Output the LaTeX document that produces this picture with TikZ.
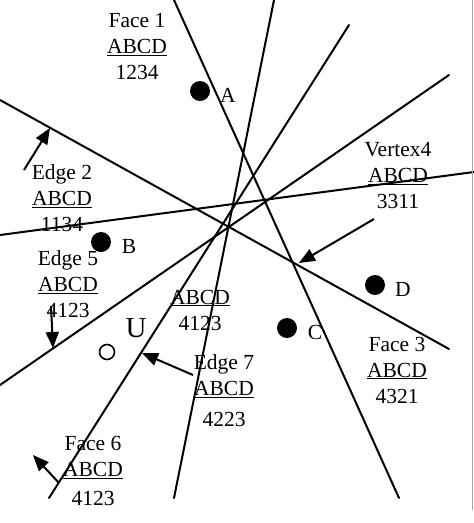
\documentclass[tikz,border=0pt]{standalone}
\usepackage{fontspec}
\setmainfont{Liberation Serif}
\usetikzlibrary{arrows.meta}
\tikzset{
  cut/.style={line width=2pt,line cap=round},
  ptr/.style={-{Triangle[length=16pt,width=13pt]},line width=2pt},
  site/.style={circle,fill,inner sep=0pt,minimum size=20pt},
  query/.style={circle,draw,line width=1.6pt,inner sep=0pt,minimum size=15pt},
  tag/.style={font=\fontsize{21.5}{26}\selectfont,inner sep=0pt},
  cell/.style={tag,align=center}
}
\begin{document}
\begin{tikzpicture}[x=1pt,y=-1pt]
  \useasboundingbox (0,0) rectangle (474,523);
  % the six lines of the arrangement
  \coordinate (p1) at (174,0);   \coordinate (q1) at (399,498);
  \coordinate (p2) at (274,0);   \coordinate (q2) at (174,498);
  \coordinate (p3) at (349,25);  \coordinate (q3) at (49,498);
  \coordinate (p4) at (449,75);  \coordinate (q4) at (0,385);
  \coordinate (p5) at (0,235);   \coordinate (q5) at (474,172);
  \coordinate (p6) at (0,100);   \coordinate (q6) at (449,349);
  \foreach \i in {1,...,6} {\draw[cut] (p\i) -- (q\i);}
  \draw[gray!70,line width=1.5pt] (472.5,0) -- (472.5,510);

  % sites and query point
  \foreach \n/\x/\y in {A/200/91,B/101/242,D/375/285,C/287/328}{
    \node[site] (\n) at (\x,\y) {};
    \node[tag] (\n lab) at ([xshift=28pt,yshift=-4pt]\n.center) {\n};}
  \node[query] (u) at (107,352) {};
  \node[font=\fontsize{29}{30}\selectfont,inner sep=0pt] (ulab) at (136,328) {U};

  % labels of faces, edges and vertex
  \node[cell] (face1) at (137,47) {Face 1\\\underline{ABCD}\\1234};
  \node[cell] (edge2) at (62,198) {Edge 2\\\underline{ABCD}\\1134};
  \node[cell] (vert4) at (398,176) {Vertex4\\\underline{ABCD}\\3311};
  \node[cell] (edge5) at (68,284) {Edge 5\\\underline{ABCD}\\4123};
  \node[cell] (cellU) at (200,310) {\underline{ABCD}\\4123};
  \node[cell] (edge7) at (224,391) {Edge 7\\\underline{ABCD}\\[5pt]4223};
  \node[cell] (face3) at (397,370) {Face 3\\\underline{ABCD}\\4321};
  \node[cell] (face6) at (93,471) {Face 6\\\underline{ABCD}\\[3pt]4123};

  % pointers
  \coordinate (e2t) at (24,170);  \coordinate (e2h) at (50,128);
  \coordinate (v4t) at (374,219); \coordinate (v4h) at (299,263);
  \coordinate (e5t) at (51,306);  \coordinate (e5h) at (53,348);
  \coordinate (e7t) at (193,375); \coordinate (e7h) at (142,353);
  \coordinate (f6t) at (59,483);  \coordinate (f6h) at (33,455);
  \foreach \a in {e2,v4,e5,e7,f6} {\draw[ptr] (\a t) -- (\a h);}
\end{tikzpicture}
\end{document}
